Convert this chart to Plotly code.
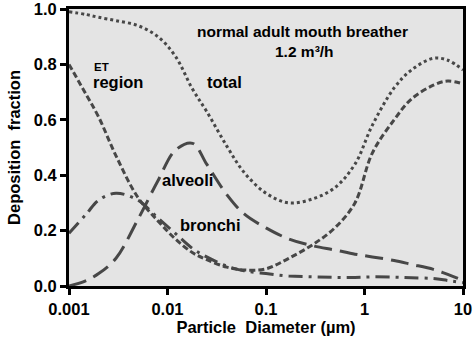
import math
import plotly.graph_objects as go

# Particle diameter grid (µm)
diameter = [0.001, 0.0015, 0.002, 0.003, 0.005, 0.008, 0.012, 0.018, 0.025,
            0.04, 0.06, 0.1, 0.17, 0.3, 0.5, 0.8, 1.2, 2, 3, 5, 7, 10]

# Deposition fractions by region
total = [0.99, 0.98, 0.97, 0.958, 0.94, 0.90, 0.83, 0.71, 0.63,
         0.505, 0.41, 0.335, 0.30, 0.315, 0.355, 0.44, 0.58, 0.715, 0.78, 0.822, 0.815, 0.78]
et_region = [0.80, 0.69, 0.61, 0.47, 0.32, 0.235, 0.17, 0.12, 0.095,
             0.068, 0.058, 0.062, 0.10, 0.15, 0.21, 0.30, 0.48, 0.60, 0.675, 0.725, 0.74, 0.73]
alveoli = [0.0, 0.02, 0.045, 0.10, 0.24, 0.38, 0.49, 0.515, 0.44,
           0.33, 0.26, 0.21, 0.17, 0.145, 0.13, 0.115, 0.105, 0.092, 0.078, 0.06, 0.042, 0.02]
bronchi = [0.19, 0.26, 0.31, 0.335, 0.31, 0.245, 0.19, 0.135, 0.105,
           0.072, 0.055, 0.045, 0.036, 0.033, 0.031, 0.031, 0.033, 0.032, 0.03, 0.027, 0.02, 0.012]

x_ticks = [0.001, 0.01, 0.1, 1, 10]
x_tick_text = ["0.001", "0.01", "0.1", "1", "10"]
y_ticks = [0.0, 0.2, 0.4, 0.6, 0.8, 1.0]
y_tick_text = ["0.0", "0.2", "0.4", "0.6", "0.8", "1.0"]

line_color = "#474747"
font_family = "Liberation Sans, Arial, sans-serif"

fig = go.Figure()
series = [
    ("total", total, "dot"),
    ("ET region", et_region, "6px,3px"),
    ("alveoli", alveoli, "18px,8px"),
    ("bronchi", bronchi, "14px,6px,3px,6px"),
]
for name, vals, dash in series:
    fig.add_trace(go.Scatter(
        x=diameter, y=vals, mode="lines", name=name,
        line=dict(color=line_color, width=3, dash=dash, shape="spline", smoothing=1.0),
        showlegend=False,
    ))

axis_common = dict(
    showline=True, linecolor="black", linewidth=3, mirror=True,
    ticks="outside", ticklen=6, tickwidth=3, tickcolor="black",
    showgrid=False, zeroline=False, automargin=False, ticklabeloverflow="allow",
    tickfont=dict(family=font_family, size=16.5, color="black", weight="bold"),
)

fig.update_xaxes(
    type="log", range=[-3, 1], tickvals=x_ticks, ticktext=x_tick_text,
    ticklabelstandoff=0,
    title=dict(text="Particle  Diameter (µm)", standoff=3,
               font=dict(family=font_family, size=16.5, color="black", weight="bold")),
    **axis_common,
)
fig.update_yaxes(
    range=[0, 1.0], tickvals=y_ticks, ticktext=y_tick_text,
    title=dict(text="Deposition  fraction", standoff=9,
               font=dict(family=font_family, size=16.5, color="black", weight="bold")),
    **axis_common,
)

# Text labels placed in data coordinates (diameter in µm, fraction)
labels = [
    ("normal adult mouth breather", 0.234, 0.92, 15.5),
    ("1.2 m³/h", 0.248, 0.848, 15.5),
    ("total", 0.0377, 0.736, 16.5),
    ("region", 0.00313, 0.736, 16.5),
    ("ET", 0.00215, 0.79, 11.5),
    ("alveoli", 0.0158, 0.383, 16.5),
    ("bronchi", 0.0272, 0.22, 16.5),
]
for text, xv, yv, size in labels:
    fig.add_annotation(x=math.log10(xv), y=yv, text=text, showarrow=False,
                       xanchor="center", yanchor="middle",
                       font=dict(family=font_family, size=size, color="black", weight="bold"))

fig.update_layout(
    width=474, height=340,
    margin=dict(l=69, r=11, t=9, b=54),
    plot_bgcolor="#e4e4e4", paper_bgcolor="white",
    font=dict(family=font_family, color="black"),
)

fig.write_html("out.html")
